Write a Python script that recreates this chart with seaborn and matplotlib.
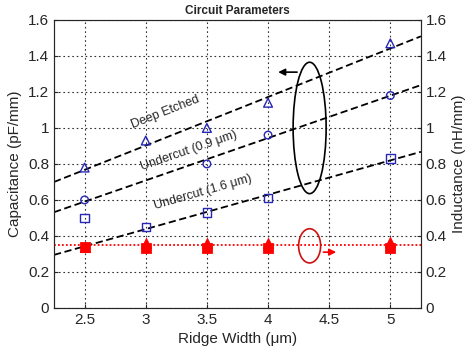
import numpy as np
import pandas as pd
import matplotlib
matplotlib.use('Agg')
import matplotlib.pyplot as plt
from matplotlib.patches import Ellipse
import seaborn as sns

# values
width = [2.5, 3, 3.5, 4, 5]
deep_etched = [0.78, 0.93, 1.00, 1.14, 1.47]
width_09 = [2.5, 3.5, 4, 5]
undercut_09 = [0.60, 0.80, 0.96, 1.18]
undercut_16 = [0.50, 0.45, 0.53, 0.61, 0.83]
ind_sq = [0.34, 0.335, 0.335, 0.335, 0.335]
ind_tri = [0.34, 0.36, 0.36, 0.36, 0.365]
ind_level = 0.35

x_ticks = [2.5, 3, 3.5, 4, 4.5, 5]
y_ticks = [0, 0.2, 0.4, 0.6, 0.8, 1, 1.2, 1.4, 1.6]
y_labels = ['0', '0.2', '0.4', '0.6', '0.8', '1', '1.2', '1.4', '1.6']

sns.set_style('ticks')
plt.rcParams['font.family'] = ['Liberation Sans', 'DejaVu Sans']

fig = plt.figure(figsize=(4.74, 3.56), dpi=100)
ax = fig.add_axes([0.114, 0.135, 0.774, 0.809])
blue = '#2626b8'
ax.set_xlim(2.25, 5.25)
ax.set_ylim(0, 1.6)

# fitted dashed lines (the 1.6 um fit leaves out the 2.5 um point)
for xs, ys in [(width, deep_etched), (width_09, undercut_09), (width[1:], undercut_16[1:])]:
    sns.regplot(x=xs, y=ys, ax=ax, scatter=False, ci=None, truncate=False,
                line_kws=dict(color='black', ls=(0, (4, 2)), lw=1.3))

sns.scatterplot(x=width, y=deep_etched, ax=ax, marker='^', s=40, facecolor='none',
                edgecolor=blue, linewidth=1.0, zorder=5)
sns.scatterplot(x=width_09, y=undercut_09, ax=ax, marker='o', s=30, facecolor='none',
                edgecolor=blue, linewidth=1.0, zorder=5)
sns.scatterplot(x=width, y=undercut_16, ax=ax, marker='s', s=36, facecolor='none',
                edgecolor=blue, linewidth=1.0, zorder=5)

ax.set_xlim(2.25, 5.25)
ax.set_ylim(0, 1.6)
ax.set_xticks(x_ticks)
ax.set_xticklabels([str(t) for t in x_ticks])
ax.set_yticks(y_ticks)
ax.set_yticklabels(y_labels)
ax.grid(True, color='#333333', ls=(0, (1.5, 2.5)), lw=0.8)
ax.tick_params(direction='in', labelsize=11, length=3)
ax.set_xlabel('Ridge Width (\u03bcm)', fontsize=11)
ax.set_ylabel('Capacitance (pF/mm)', fontsize=11)
ax.set_title('Circuit Parameters', fontsize=8.5, fontweight='bold', pad=4)
for s in ax.spines.values():
    s.set_color('#555555')

ax2 = ax.twinx()
ax2.axhline(ind_level, color='red', ls=(0, (1, 1.2)), lw=1.3)
sns.scatterplot(x=width, y=ind_sq, ax=ax2, marker='s', s=50, color='red',
                edgecolor='red', zorder=5)
sns.scatterplot(x=width, y=ind_tri, ax=ax2, marker='^', s=55, color='red',
                edgecolor='red', zorder=6)
ax2.set_ylim(0, 1.6)
ax2.set_yticks(y_ticks)
ax2.set_yticklabels(y_labels)
ax2.tick_params(direction='in', labelsize=11, length=3)
ax2.set_ylabel('Inductance (nH/mm)', fontsize=11)
ax2.grid(False)

# labels along the lines
ax.text(3.16, 1.09, 'Deep Etched', rotation=21.5, ha='center', va='center', fontsize=9)
ax.text(3.35, 0.875, 'Undercut (0.9 \u03bcm)', rotation=19, ha='center', va='center', fontsize=9)
ax.text(3.47, 0.64, 'Undercut (1.6 \u03bcm)', rotation=16, ha='center', va='center', fontsize=9)

# ellipses and arrows
ax.add_patch(Ellipse((4.34, 1.0), 0.27, 0.73, fill=False, ec='black', lw=1.2, zorder=6))
ax.annotate('', xy=(4.06, 1.31), xytext=(4.26, 1.31),
            arrowprops=dict(arrowstyle='-|>', color='black', lw=1.2, mutation_scale=10))
ax2.add_patch(Ellipse((4.34, 0.345), 0.18, 0.19, fill=False, ec='#cc1111', lw=1.2, zorder=6))
ax2.annotate('', xy=(4.58, 0.31), xytext=(4.43, 0.31),
             arrowprops=dict(arrowstyle='-|>', color='red', lw=1.2, mutation_scale=10))

fig.savefig('out.png', dpi=100)
